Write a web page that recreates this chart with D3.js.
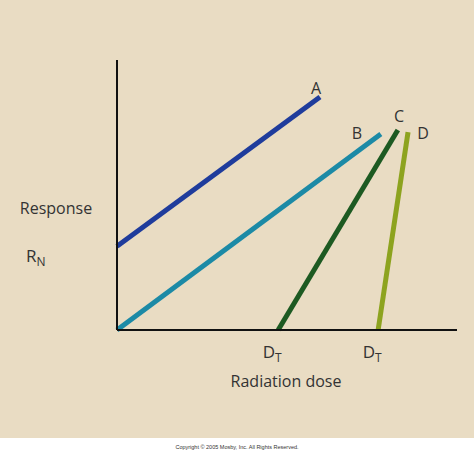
<!DOCTYPE html>
<html><head><meta charset="utf-8">
<script src="https://cdn.jsdelivr.net/npm/d3@7"></script>
<style>body{margin:0;background:#fff}svg{display:block}</style>
</head><body><div id="chart"></div>
<script>
const lineNames = ["A", "B", "C", "D"];
const lineColors = ["#1f3c9c", "#1c8aa6", "#1d5a22", "#8da31f"];
const lineStarts = [[0, 3.1], [0, 0], [4.74, 0], [7.68, 0]];
const lineEnds = [[5.97, 8.63], [7.76, 7.26], [8.26, 7.41], [8.56, 7.33]];
const doseTicks = [4.74, 7.68];

const W = 474, H = 451;
const svg = d3.select("#chart").append("svg").attr("width", W).attr("height", H);
svg.append("rect").attr("width", W).attr("height", 438).attr("fill", "#e9dcc3");

const x = d3.scaleLinear().domain([0, 10]).range([117, 457]);
const y = d3.scaleLinear().domain([0, 10]).range([330, 60]);
const font = "'Open Sans', sans-serif", ink = "#333";

lineNames.forEach((nm, i) => {
  svg.append("line")
    .attr("x1", x(lineStarts[i][0])).attr("y1", y(lineStarts[i][1]))
    .attr("x2", x(lineEnds[i][0])).attr("y2", y(lineEnds[i][1]))
    .attr("stroke", lineColors[i]).attr("stroke-width", 5);
});

// axes
svg.append("line").attr("x1", x(0)).attr("x2", x(0)).attr("y1", y(10)).attr("y2", y(0))
  .attr("stroke", "#111").attr("stroke-width", 2);
svg.append("line").attr("x1", x(0)).attr("x2", x(10)).attr("y1", y(0)).attr("y2", y(0))
  .attr("stroke", "#111").attr("stroke-width", 2);

const txt = (t, px, py, size, anchor) => svg.append("text").attr("x", px).attr("y", py)
  .attr("font-family", font).attr("font-size", size).attr("fill", ink)
  .attr("text-anchor", anchor || "middle").text(t);

const labelPos = [[316, 94], [357, 139], [399, 122], [423, 139]];
lineNames.forEach((nm, i) => txt(nm, labelPos[i][0], labelPos[i][1], 16));

txt("Response", 56, 214, 16);
const rn = txt("R", 26, 262, 17, "start");
rn.append("tspan").attr("font-size", 12).attr("dy", 4).text("N");

doseTicks.forEach(d => {
  const t = txt("D", x(d) - 6, 358, 17);
  t.append("tspan").attr("font-size", 12).attr("dy", 4).text("T");
});
txt("Radiation dose", 286, 387, 16);

svg.append("text").attr("x", 237).attr("y", 449).attr("text-anchor", "middle")
  .attr("font-family", "Arial, sans-serif").attr("font-size", 5.5).attr("fill", "#333")
  .text("Copyright © 2005 Mosby, Inc. All Rights Reserved.");
</script></body></html>
